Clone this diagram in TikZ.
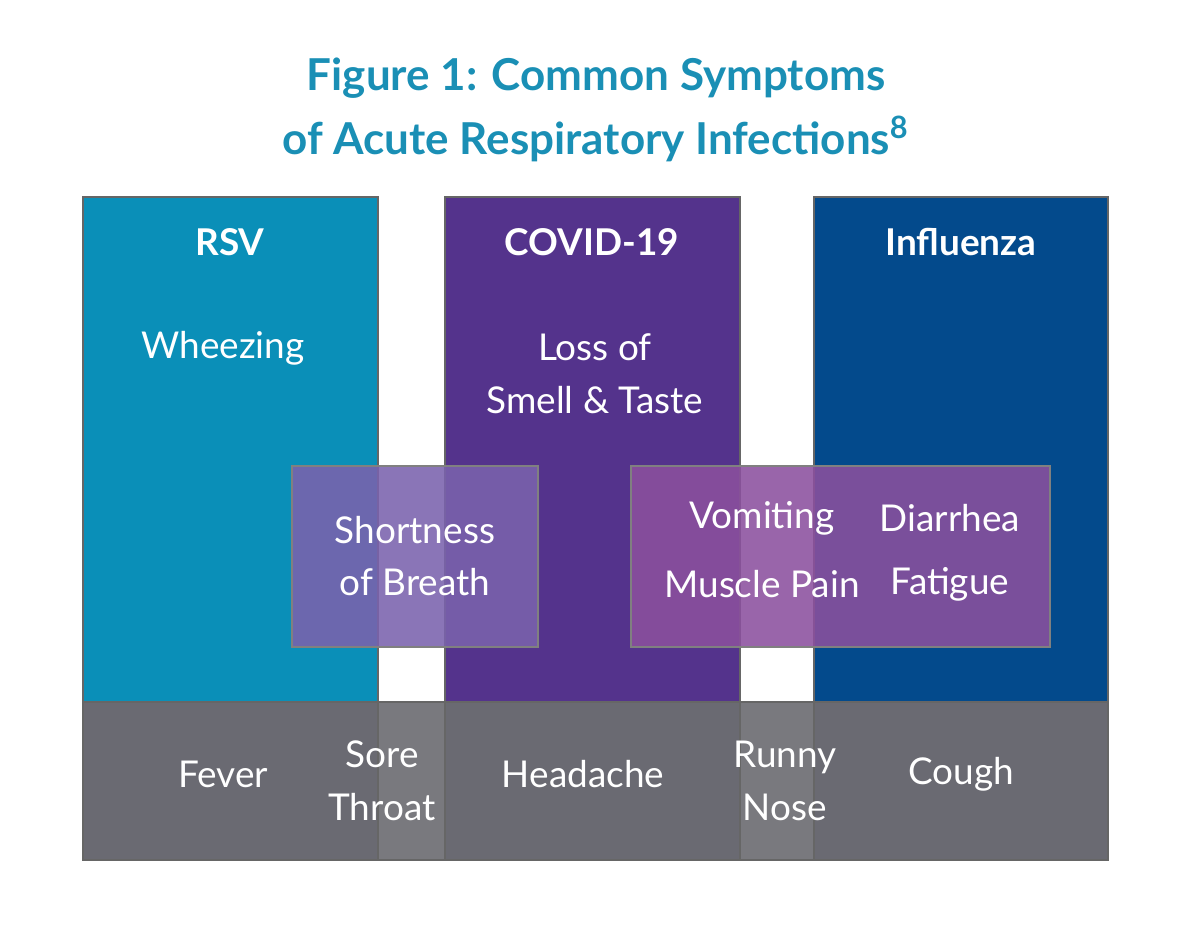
\documentclass[tikz,border=0pt]{standalone}
\usepackage{fontspec}
\setmainfont{Lato}
\definecolor{tl}{HTML}{1A8FB5}
\definecolor{rsv}{HTML}{0A8FB8}
\definecolor{cov}{HTML}{54338C}
\definecolor{flu}{HTML}{034A8C}
\definecolor{gb}{HTML}{6A6A72}
\definecolor{gg}{HTML}{79797E}
\definecolor{pb}{HTML}{7A62AD}
\definecolor{mb}{HTML}{8B509E}
\begin{document}
\begin{tikzpicture}[x=0.01cm,y=-0.01cm,
 hd/.style={text=white,font=\fontsize{10.5}{12}\selectfont\bfseries},
 sy/.style={text=white,font=\fontsize{10.5}{15}\selectfont,align=center},
 ti/.style={text=tl,font=\fontsize{12.5}{18}\selectfont\bfseries,align=center}]
\useasboundingbox (0,0) rectangle (1200,933);
\node[ti] (title) at (596,110) {Figure 1: Common Symptoms\\of Acute Respiratory Infections\textsuperscript{8}};
\fill[rsv] (83,197) rectangle (378,702);
\fill[cov] (445,197) rectangle (740,702);
\fill[flu] (814,197) rectangle (1108,702);
\fill[gb] (83,702) rectangle (1108,860);
\fill[gg] (378,702) rectangle (445,860);
\fill[gg] (740,702) rectangle (814,860);
\draw[black!60,line width=0.4pt] (83,197) rectangle (378,860);
\draw[black!60,line width=0.4pt] (445,197) rectangle (740,860);
\draw[black!60,line width=0.4pt] (814,197) rectangle (1108,860);
\draw[black!60,line width=0.4pt] (83,702) rectangle (1108,860);
\fill[pb,fill opacity=0.88] (292,466) rectangle (538,647);
\draw[black!50,line width=0.4pt] (292,466) rectangle (538,647);
\fill[mb,fill opacity=0.88] (631,466) rectangle (1050,647);
\draw[black!50,line width=0.4pt] (631,466) rectangle (1050,647);
\node[hd] (h1) at (230,242) {RSV};
\node[hd] (h2) at (592,242) {COVID-19};
\node[hd] (h3) at (961,242) {Influenza};
\node[sy] (w) at (223,348) {Wheezing};
\node[sy] (l) at (595,374) {Loss of\\Smell \& Taste};
\node[sy] (s) at (415,556) {Shortness\\of Breath};
\node[sy] (v) at (762,518) {Vomiting};
\node[sy] (d) at (950,518) {Diarrhea};
\node[sy] (m) at (762,584) {Muscle Pain};
\node[sy] (f) at (950,584) {Fatigue};
\node[sy] (fe) at (223,774) {Fever};
\node[sy] (st) at (382,781) {Sore\\Throat};
\node[sy] (he) at (583,774) {Headache};
\node[sy] (rn) at (785,781) {Runny\\Nose};
\node[sy] (co) at (961,774) {Cough};
\end{tikzpicture}
\end{document}
